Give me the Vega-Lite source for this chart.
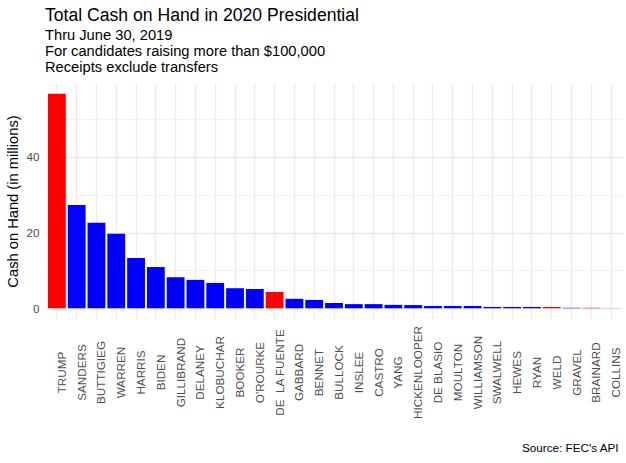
{
  "$schema": "https://vega.github.io/schema/vega-lite/v6.json",
  "autosize": {"type": "none"},
  "width": 578,
  "height": 236,
  "padding": {"left": 45, "top": 83, "right": 3, "bottom": 144},
  "background": "white",
  "config": {
    "font": "Liberation Sans",
    "view": {"stroke": null}
  },
  "title": {
    "text": "Total Cash on Hand in 2020 Presidential",
    "subtitle": ["Thru June 30, 2019", "For candidates raising more than $100,000", "Receipts exclude transfers"],
    "anchor": "start",
    "frame": "group",
    "font": "Liberation Sans",
    "fontSize": 17.6,
    "fontWeight": "normal",
    "color": "black",
    "subtitleFont": "Liberation Sans",
    "subtitleFontSize": 14.7,
    "subtitleColor": "black",
    "subtitleLineHeight": 16,
    "subtitlePadding": 4,
    "offset": 8
  },
  "data": {
    "values": [
      {"candidate": "TRUMP", "cash": 56.7, "party": "REP"},
      {"candidate": "SANDERS", "cash": 27.3, "party": "DEM"},
      {"candidate": "BUTTIGIEG", "cash": 22.6, "party": "DEM"},
      {"candidate": "WARREN", "cash": 19.7, "party": "DEM"},
      {"candidate": "HARRIS", "cash": 13.3, "party": "DEM"},
      {"candidate": "BIDEN", "cash": 10.9, "party": "DEM"},
      {"candidate": "GILLIBRAND", "cash": 8.2, "party": "DEM"},
      {"candidate": "DELANEY", "cash": 7.5, "party": "DEM"},
      {"candidate": "KLOBUCHAR", "cash": 6.7, "party": "DEM"},
      {"candidate": "BOOKER", "cash": 5.3, "party": "DEM"},
      {"candidate": "O'ROURKE", "cash": 5.1, "party": "DEM"},
      {"candidate": "DE\u00a0 LA FUENTE", "cash": 4.3, "party": "REP"},
      {"candidate": "GABBARD", "cash": 2.5, "party": "DEM"},
      {"candidate": "BENNET", "cash": 2.2, "party": "DEM"},
      {"candidate": "BULLOCK", "cash": 1.4, "party": "DEM"},
      {"candidate": "INSLEE", "cash": 1.1, "party": "DEM"},
      {"candidate": "CASTRO", "cash": 1.1, "party": "DEM"},
      {"candidate": "YANG", "cash": 0.9, "party": "DEM"},
      {"candidate": "HICKENLOOPER", "cash": 0.85, "party": "DEM"},
      {"candidate": "DE BLASIO", "cash": 0.6, "party": "DEM"},
      {"candidate": "MOULTON", "cash": 0.6, "party": "DEM"},
      {"candidate": "WILLIAMSON", "cash": 0.6, "party": "DEM"},
      {"candidate": "SWALWELL", "cash": 0.35, "party": "DEM"},
      {"candidate": "HEWES", "cash": 0.35, "party": "DEM"},
      {"candidate": "RYAN", "cash": 0.35, "party": "DEM"},
      {"candidate": "WELD", "cash": 0.35, "party": "REP"},
      {"candidate": "GRAVEL", "cash": 0.12, "party": "DEM"},
      {"candidate": "BRAINARD", "cash": 0.12, "party": "REP"},
      {"candidate": "COLLINS", "cash": 0.02, "party": "DEM"}
    ]
  },
  "mark": {"type": "bar"},
  "encoding": {
    "x": {
      "field": "candidate",
      "type": "nominal",
      "sort": null,
      "scale": {"paddingInner": 0.1, "paddingOuter": 0.15},
      "axis": {
        "title": "Source: FEC's API",
        "titleFont": "Liberation Sans",
        "titleFontSize": 11.7,
        "titleFontWeight": "normal",
        "titleColor": "black",
        "titleAlign": "right",
        "titleBaseline": "alphabetic",
        "titleX": 573,
        "titleY": 132,
        "labelAngle": 270,
        "labelAlign": "center",
        "labelBaseline": "top",
        "labelPadding": 53,
        "labelOverlap": false,
        "labelFontSize": 11.7,
        "labelColor": "#4d4d4d",
        "ticks": false,
        "tickSize": 0,
        "domain": false,
        "grid": true,
        "bandPosition": 0.5,
        "gridColor": "#ebebeb",
        "gridWidth": 1.4
      }
    },
    "y": {
      "field": "cash",
      "type": "quantitative",
      "scale": {"domain": [-2.835, 59.535], "nice": false, "zero": false},
      "axis": {
        "title": "Cash on Hand (in millions)",
        "titleFontSize": 14.7,
        "titleFontWeight": "normal",
        "titleColor": "black",
        "titlePadding": 5,
        "values": [0, 10, 20, 30, 40, 50],
        "labelExpr": "datum.value % 20 === 0 ? datum.label : ''",
        "labelFontSize": 11.7,
        "labelColor": "#4d4d4d",
        "labelPadding": 6,
        "ticks": false,
        "tickSize": 0,
        "domain": false,
        "grid": true,
        "gridColor": "#ebebeb",
        "gridWidth": {"condition": {"test": "datum.value % 20 === 0", "value": 1.4}, "value": 0.7}
      }
    },
    "y2": {"datum": 0},
    "color": {
      "field": "party",
      "type": "nominal",
      "scale": {"domain": ["REP", "DEM"], "range": ["#ff0000", "#0000ff"]},
      "legend": null
    }
  }
}
